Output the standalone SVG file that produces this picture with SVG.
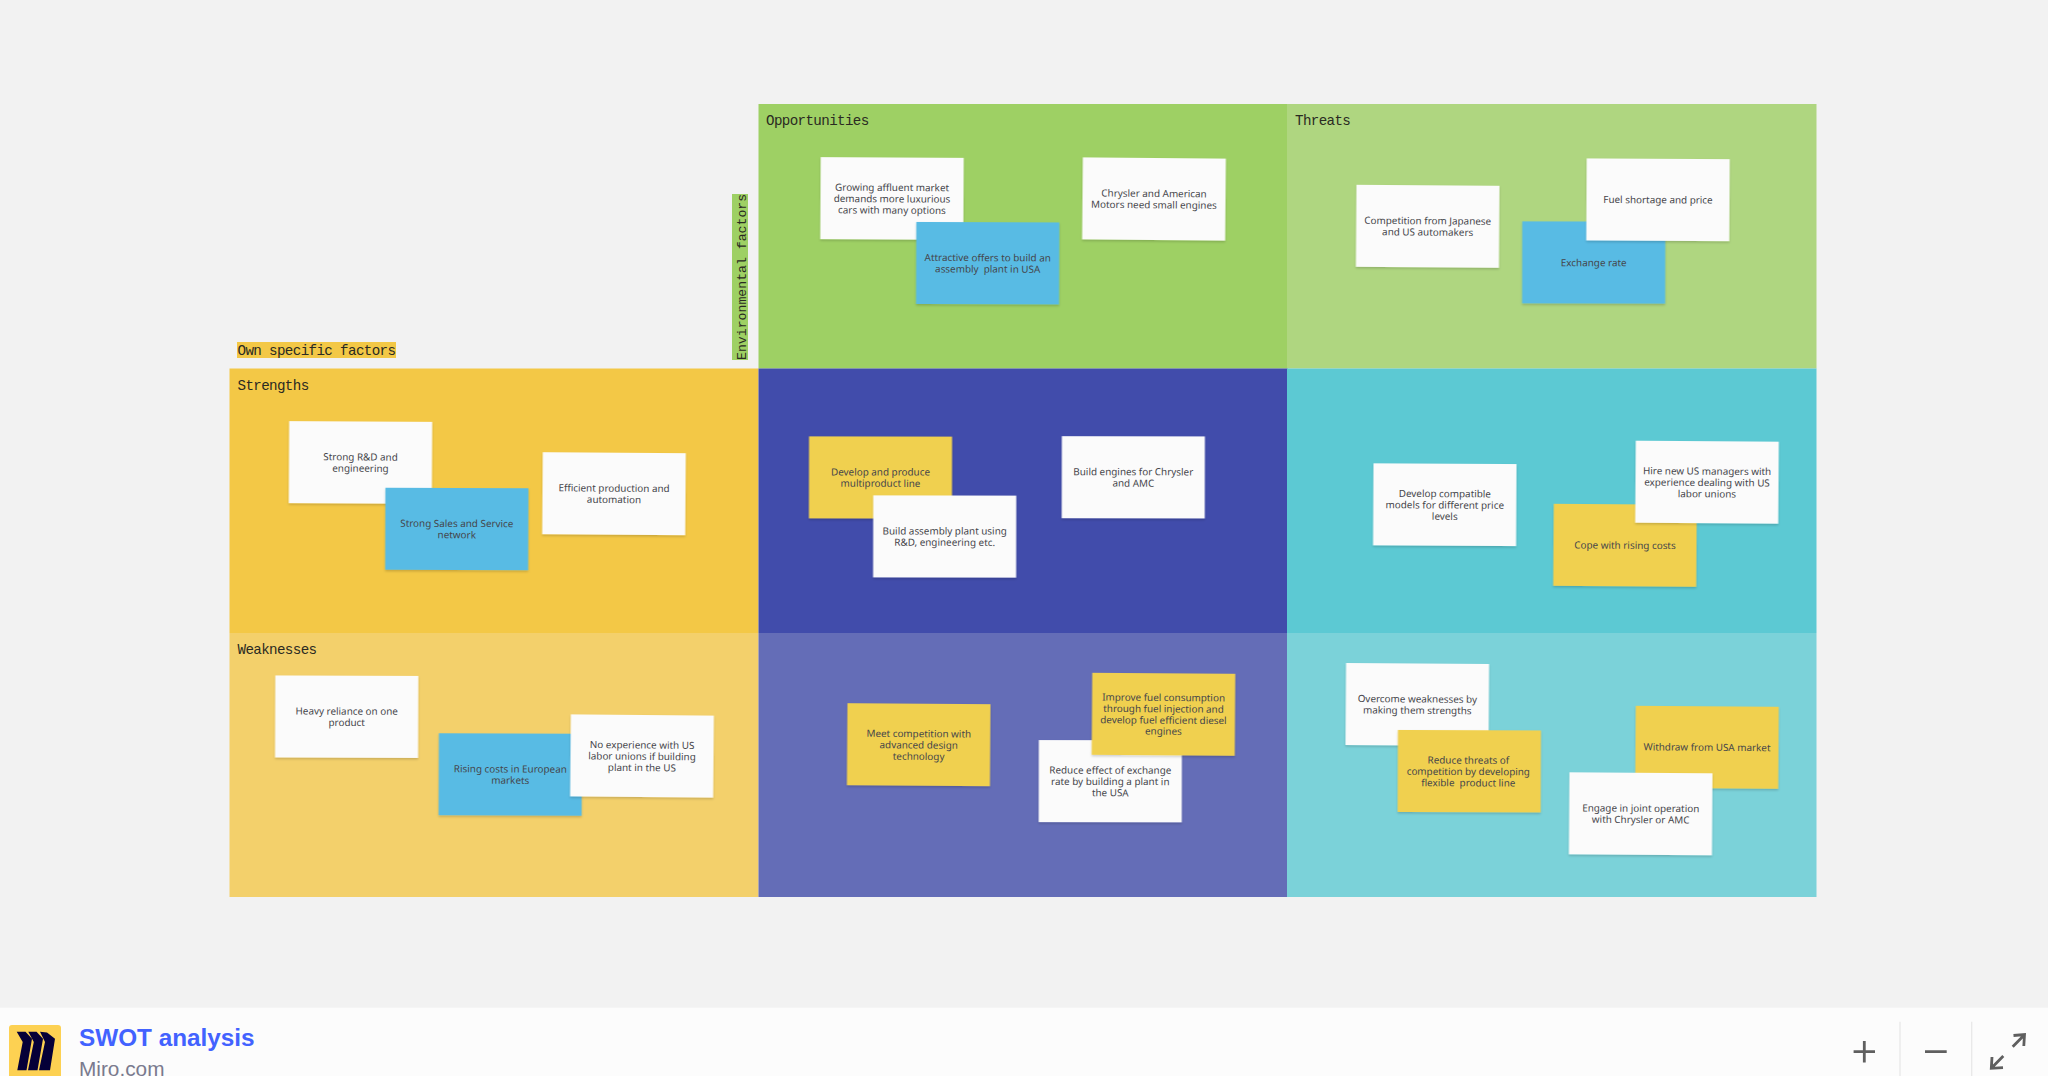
<svg xmlns="http://www.w3.org/2000/svg" width="2048" height="1076" viewBox="0 0 2048 1076">
<style>
.m{font-family:"Liberation Mono","DejaVu Sans Mono",monospace;font-size:14.2px;letter-spacing:-.62px;fill:#2a2a22}
.v{font-size:13.2px;letter-spacing:0}
.n{font-family:"Noto Sans","Open Sans",sans-serif;font-size:9.9px;fill:#45454a;text-anchor:middle;white-space:pre}
.w{fill:#fbfbfb;filter:url(#s)}.b{fill:#58bbe4;filter:url(#s)}.y{fill:#f0d04f;filter:url(#s)}
.c{fill:none;stroke:#5f5f5f;stroke-width:2.8}
</style>
<defs>
<filter id="s" x="-5%" y="-5%" width="110%" height="115%"><feDropShadow dx="0" dy="1.5" stdDeviation="1.2" flood-color="#000" flood-opacity=".18"/></filter>
<rect id="r" x="-71.5" y="-41" width="143" height="82"/>
</defs>
<rect width="2048" height="1076" fill="#f2f2f2"/>
<g id="panels">
<rect id="opportunities" x="758.5" y="104" width="529" height="264.500" fill="#9ed064"/>
<rect id="threats" x="1287" y="104" width="529.500" height="264.500" fill="#afd680"/>
<rect id="strengths" x="229.500" y="368.500" width="529" height="264.500" fill="#f3c846"/>
<rect id="so" x="758.500" y="368.500" width="529" height="264.500" fill="#414cab"/>
<rect id="st" x="1287" y="368.500" width="529.500" height="264.500" fill="#5cc9d3"/>
<rect id="weaknesses" x="229.500" y="633" width="529" height="264" fill="#f3d06b"/>
<rect id="wo" x="758.500" y="633" width="529" height="264" fill="#646db7"/>
<rect id="wt" x="1287" y="633" width="529.500" height="264" fill="#7bd2d9"/>
</g>
<g id="labels">
<text class="m" x="766" y="125">Opportunities</text>
<text class="m" x="1295" y="125">Threats</text>
<text class="m" x="237.500" y="389.500">Strengths</text>
<text class="m" x="237.500" y="653.500">Weaknesses</text>
<rect x="237" y="342" width="159" height="16" fill="#f3c846"/>
<text class="m" x="237.500" y="354.500">Own specific factors</text>
<rect x="732" y="194" width="16" height="166" fill="#9ed064"/>
<text class="m v" transform="translate(746.300 360) rotate(-90)">Environmental factors</text>
</g>
<g id="note-growing" transform="translate(892 198.500) rotate(.3)"><use href="#r" class="w"/><text class="n" y="-7.500"><tspan x="0">Growing affluent market</tspan><tspan x="0" dy="11.330">demands more luxurious</tspan><tspan x="0" dy="11.330">cars with many options</tspan></text></g>
<g id="note-attractive" transform="translate(987.700 263.200) rotate(.2)"><use href="#r" class="b"/><text class="n" y="-2"><tspan x="0">Attractive offers to build an</tspan><tspan x="0" dy="11.330">assembly  plant in USA</tspan></text></g>
<g id="note-chrysler" transform="translate(1154 199) rotate(.5)"><use href="#r" class="w"/><text class="n" y="-2"><tspan x="0">Chrysler and American</tspan><tspan x="0" dy="11.330">Motors need small engines</tspan></text></g>
<g id="note-competition" transform="translate(1427.700 226.300) rotate(.4)"><use href="#r" class="w"/><text class="n" y="-2"><tspan x="0">Competition from Japanese</tspan><tspan x="0" dy="11.330">and US automakers</tspan></text></g>
<g id="note-exchange" transform="translate(1593.700 262.500) rotate(.1)"><use href="#r" class="b"/><text class="n" y="3.800"><tspan x="0">Exchange rate</tspan></text></g>
<g id="note-fuel" transform="translate(1658 199.800) rotate(.3)"><use href="#r" class="w"/><text class="n" y="3.500"><tspan x="0">Fuel shortage and price</tspan></text></g>
<g id="note-rd" transform="translate(360.500 462.500) rotate(.3)"><use href="#r" class="w"/><text class="n" y="-2"><tspan x="0">Strong R&amp;D and</tspan><tspan x="0" dy="11.330">engineering</tspan></text></g>
<g id="note-sales" transform="translate(456.800 529) rotate(.2)"><use href="#r" class="b"/><text class="n" y="-2"><tspan x="0">Strong Sales and Service</tspan><tspan x="0" dy="11.330">network</tspan></text></g>
<g id="note-efficient" transform="translate(614 493.700) rotate(.4)"><use href="#r" class="w"/><text class="n" y="-2"><tspan x="0">Efficient production and</tspan><tspan x="0" dy="11.330">automation</tspan></text></g>
<g id="note-develop" transform="translate(880.500 477.500) rotate(.1)"><use href="#r" class="y"/><text class="n" y="-2"><tspan x="0">Develop and produce</tspan><tspan x="0" dy="11.330">multiproduct line</tspan></text></g>
<g id="note-assembly" transform="translate(944.700 536.500) rotate(.1)"><use href="#r" class="w"/><text class="n" y="-2"><tspan x="0">Build assembly plant using</tspan><tspan x="0" dy="11.330">R&amp;D, engineering etc.</tspan></text></g>
<g id="note-engines" transform="translate(1133.300 477.300) rotate(.1)"><use href="#r" class="w"/><text class="n" y="-2"><tspan x="0">Build engines for Chrysler</tspan><tspan x="0" dy="11.330">and AMC</tspan></text></g>
<g id="note-compatible" transform="translate(1444.800 504.700) rotate(.3)"><use href="#r" class="w"/><text class="n" y="-7.500"><tspan x="0">Develop compatible</tspan><tspan x="0" dy="11.330">models for different price</tspan><tspan x="0" dy="11.330">levels</tspan></text></g>
<g id="note-cope" transform="translate(1625 545.300) rotate(.4)"><use href="#r" class="y"/><text class="n" y="3.500"><tspan x="0">Cope with rising costs</tspan></text></g>
<g id="note-hire" transform="translate(1707 482.200) rotate(.4)"><use href="#r" class="w"/><text class="n" y="-7.500"><tspan x="0">Hire new US managers with</tspan><tspan x="0" dy="11.330">experience dealing with US</tspan><tspan x="0" dy="11.330">labor unions</tspan></text></g>
<g id="note-heavy" transform="translate(346.700 716.700) rotate(.2)"><use href="#r" class="w"/><text class="n" y="-2"><tspan x="0">Heavy reliance on one</tspan><tspan x="0" dy="11.330">product</tspan></text></g>
<g id="note-rising" transform="translate(510.300 774.500) rotate(.2)"><use href="#r" class="b"/><text class="n" y="-2"><tspan x="0">Rising costs in European</tspan><tspan x="0" dy="11.330">markets</tspan></text></g>
<g id="note-noexp" transform="translate(642 756) rotate(.5)"><use href="#r" class="w"/><text class="n" y="-7.500"><tspan x="0">No experience with US</tspan><tspan x="0" dy="11.330">labor unions if building</tspan><tspan x="0" dy="11.330">plant in the US</tspan></text></g>
<g id="note-meet" transform="translate(918.700 744.700) rotate(.4)"><use href="#r" class="y"/><text class="n" y="-7.500"><tspan x="0">Meet competition with</tspan><tspan x="0" dy="11.330">advanced design</tspan><tspan x="0" dy="11.330">technology</tspan></text></g>
<g id="note-reduce" transform="translate(1110.300 781.200) rotate(.1)"><use href="#r" class="w"/><text class="n" y="-7.500"><tspan x="0">Reduce effect of exchange</tspan><tspan x="0" dy="11.330">rate by building a plant in</tspan><tspan x="0" dy="11.330">the USA</tspan></text></g>
<g id="note-improve" transform="translate(1163.500 714.300) rotate(.4)"><use href="#r" class="y"/><text class="n" y="-13.300"><tspan x="0">Improve fuel consumption</tspan><tspan x="0" dy="11.330">through fuel injection and</tspan><tspan x="0" dy="11.330">develop fuel efficient diesel</tspan><tspan x="0" dy="11">engines</tspan></text></g>
<g id="note-overcome" transform="translate(1417.300 704.500) rotate(.4)"><use href="#r" class="w"/><text class="n" y="-2"><tspan x="0">Overcome weaknesses by</tspan><tspan x="0" dy="11.330">making them strengths</tspan></text></g>
<g id="note-threats" transform="translate(1469.300 771.200) rotate(.2)"><use href="#r" class="y"/><text class="n" y="-7.500"><tspan x="-1">Reduce threats of</tspan><tspan x="-1" dy="11.330">competition by developing</tspan><tspan x="-1" dy="11.330">flexible  product line</tspan></text></g>
<g id="note-withdraw" transform="translate(1707 747.300) rotate(.4)"><use href="#r" class="y"/><text class="n" y="3.500"><tspan x="0">Withdraw from USA market</tspan></text></g>
<g id="note-engage" transform="translate(1640.700 813.800) rotate(.4)"><use href="#r" class="w"/><text class="n" y="-2"><tspan x="0">Engage in joint operation</tspan><tspan x="0" dy="11.330">with Chrysler or AMC</tspan></text></g>
<g id="footer">
<rect y="1007.700" width="2048" height="68.300" fill="#fcfcfc"/>
<path d="M12 1025h46a3 3 0 0 1 3 3v48H9v-48a3 3 0 0 1 3-3z" fill="#fdd152"/>
<g fill="#050038">
<path d="M16.700 1031.700H25.500L32 1038.700L26.500 1070.300H17.300L22.700 1042Z"/>
<path d="M28.300 1031.700H36.500L43 1038.700L37.500 1070.300H28L33.800 1042Z"/>
<path d="M40 1031.700L47 1032.500L55 1038.700L50 1070.300H39L45 1042Z"/>
</g>
<text x="79" y="1046" font-family="'Liberation Sans',Arial,sans-serif" font-weight="700" font-size="24.300" fill="#4262ff">SWOT analysis</text>
<text x="79" y="1075.500" font-family="'Liberation Sans',Arial,sans-serif" font-size="20.800" fill="#7a7a8e">Miro.com</text>
<path d="M1900 1021.700V1076M1971.700 1021.700V1076" stroke="#e8e8e8" stroke-width="1.300" fill="none"/>
<path class="c" d="M1853.600 1051.700h21.400M1864.300 1041v21.400M1925 1051.700h21.700"/>
<path class="c" d="M2012.700 1046.700L2024 1035.300M2013.500 1035.500L2024.500 1034.500L2023.800 1046M2003.300 1056L1992 1067.500M1992 1057L1991.300 1068.300L2003 1067.700"/>
</g>
</svg>
